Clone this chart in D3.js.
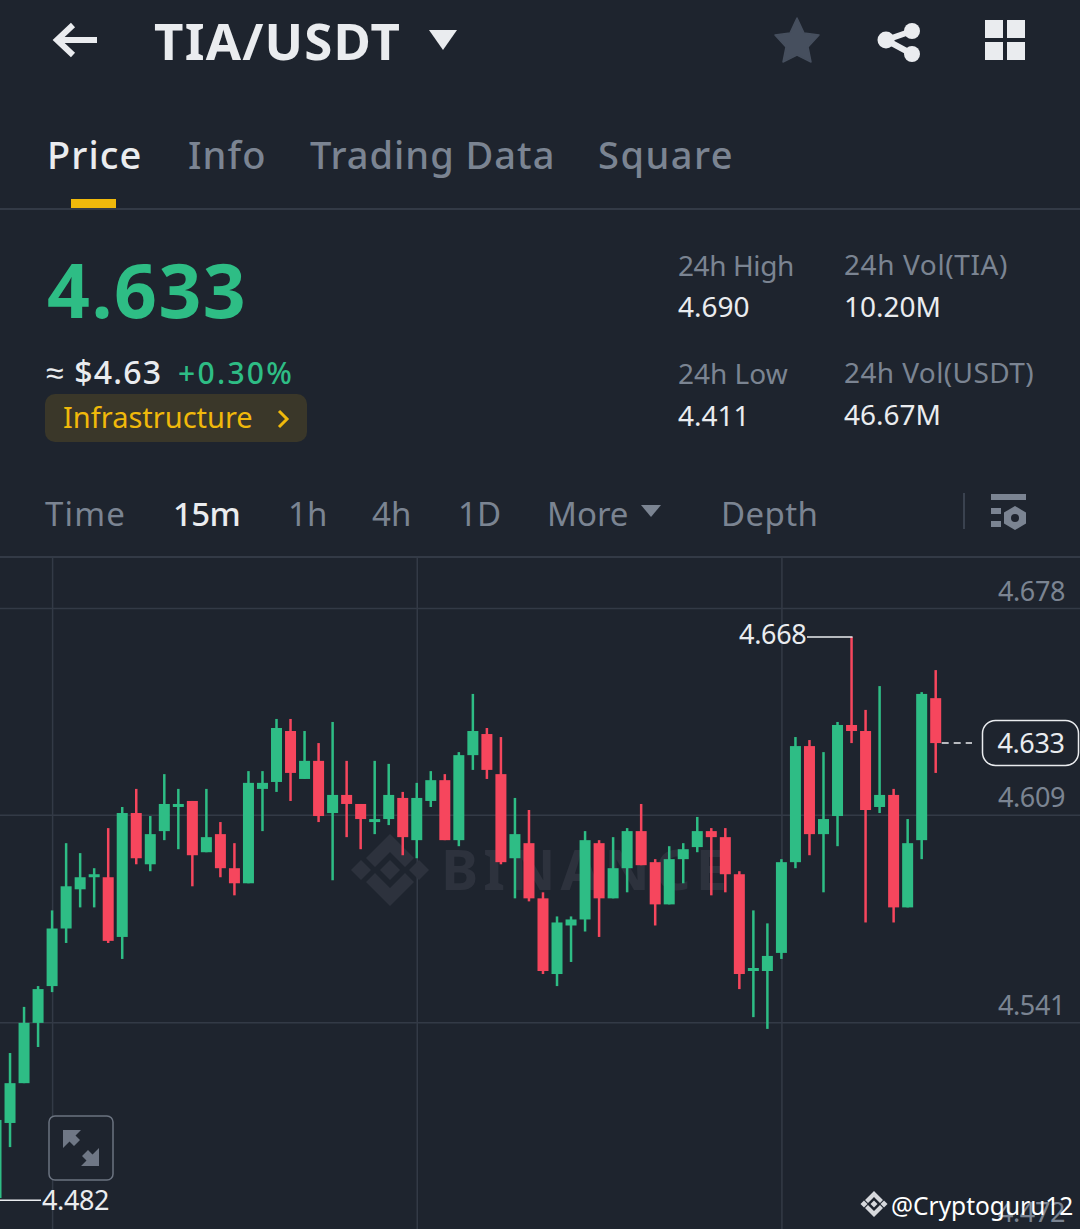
<!DOCTYPE html>
<html>
<head>
<meta charset="utf-8">
<script src="https://cdn.jsdelivr.net/npm/d3@7"></script>
<style>
html,body{margin:0;padding:0;background:#1e242e;overflow:hidden}
svg{display:block}
text{font-family:"Noto Sans",sans-serif}
</style>
</head>
<body>
<svg id="c" width="1080" height="1229"></svg>
<script>
const opens=[4.4823,4.5072,4.5204,4.5404,4.5526,4.5717,4.5847,4.5887,4.5887,4.5689,4.6100,4.5930,4.6040,4.6120,4.6140,4.5970,4.6030,4.5917,4.5867,4.6180,4.6203,4.6372,4.6213,4.6273,4.6100,4.6160,4.6130,4.6070,4.6080,4.6150,4.6010,4.6140,4.6209,4.6010,4.6292,4.6362,4.6229,4.5950,4.6000,4.5817,4.5566,4.5727,4.5747,4.6000,4.5817,4.5917,4.6040,4.5937,4.5797,4.5947,4.5987,4.6040,4.6020,4.5897,4.5576,4.5576,4.5636,4.5937,4.6322,4.6030,4.6090,4.6392,4.6372,4.6120,4.6160,4.5787,4.6010,4.6481];
const highs=[4.5082,4.5304,4.5457,4.5526,4.5777,4.6000,4.5967,4.5917,4.6050,4.6120,4.6180,4.6090,4.6229,4.6180,4.6140,4.6180,4.6070,4.6000,4.6239,4.6239,4.6412,4.6412,4.6372,4.6332,4.6402,4.6273,4.6130,4.6273,4.6263,4.6170,4.6200,4.6239,4.6229,4.6302,4.6495,4.6382,4.6352,4.6150,4.6110,4.5837,4.5757,4.5757,4.6040,4.6010,4.6020,4.6050,4.6130,4.5947,4.5990,4.6000,4.6087,4.6050,4.6050,4.5907,4.5777,4.5734,4.5947,4.6352,4.6342,4.6302,4.6402,4.6684,4.6442,4.6521,4.6180,4.6080,4.6501,4.6574];
const lows=[4.4816,4.4992,4.5204,4.5324,4.5506,4.5669,4.5787,4.5787,4.5669,4.5616,4.5930,4.5907,4.6010,4.5980,4.5857,4.5970,4.5887,4.5827,4.5867,4.6040,4.6170,4.6140,4.6213,4.6070,4.5877,4.6020,4.5980,4.6030,4.6060,4.5960,4.5950,4.6120,4.6010,4.5990,4.6243,4.6213,4.5930,4.5817,4.5807,4.5566,4.5526,4.5606,4.5707,4.5689,4.5817,4.5837,4.5927,4.5727,4.5797,4.5867,4.5970,4.5827,4.5837,4.5516,4.5423,4.5384,4.5616,4.5917,4.5960,4.5837,4.5990,4.6332,4.5737,4.6100,4.5737,4.5787,4.5947,4.6233];
const closes=[4.5082,4.5204,4.5404,4.5516,4.5717,4.5857,4.5887,4.5897,4.5676,4.6100,4.5950,4.6030,4.6130,4.6130,4.5960,4.6020,4.5917,4.5867,4.6200,4.6200,4.6382,4.6233,4.6273,4.6090,4.6160,4.6130,4.6080,4.6080,4.6160,4.6020,4.6150,4.6209,4.6010,4.6292,4.6372,4.6243,4.5937,4.6030,4.5817,4.5576,4.5737,4.5747,4.6010,4.5817,4.5917,4.6040,4.5927,4.5797,4.5947,4.5980,4.6040,4.6020,4.5897,4.5566,4.5586,4.5626,4.5937,4.6322,4.6030,4.6080,4.6392,4.6372,4.6110,4.6160,4.5787,4.6000,4.6495,4.6332];
const priceTicks=[4.678,4.6094,4.5406,4.4718];
const timeGridIndex=[4,30,56];
const tabs=["Price","Info","Trading Data","Square"];
const intervals=["Time","15m","1h","4h","1D","More","Depth"];

const BG="#1e242e",GREEN="#2ebd85",RED="#f6465d",GRID="#333a46",GREY="#7b8492",WHITE="#eaecef",YEL="#f0b90b";
const svg=d3.select("#c");
svg.append("rect").attr("width",1080).attr("height",1229).attr("fill",BG);

const candles=d3.range(opens.length).map(i=>({i,o:opens[i],h:highs[i],l:lows[i],c:closes[i]}));
const x=d3.scaleLinear().domain([0,opens.length-1]).range([-4,935.7]);
const y=d3.scaleLinear().domain([4.678,4.4718]).range([608,1229.7]);
const fmt=d3.format(".3f");

function label(t,px,py,size,fill,weight,anchor,ls){
  return svg.append("text").text(t).attr("x",px).attr("y",py).attr("font-size",size)
    .attr("fill",fill).attr("font-weight",weight||400).attr("text-anchor",anchor||"start")
    .attr("letter-spacing",ls||0);
}

/* header */
svg.append("path").attr("d","M97 40H58M73 25L57 40L73 55").attr("fill","none").attr("stroke",WHITE).attr("stroke-width",6);
label("TIA/USDT",154,60,51,WHITE,700,"start",1.2);
svg.append("path").attr("d","M429 30H457L443 50Z").attr("fill",WHITE);
svg.append("path").attr("d","M797 18L804 33L819 35L808 47L811 62L797 55L783 62L786 47L775 35L790 33Z")
  .attr("fill","#464f5e").attr("stroke","#464f5e").attr("stroke-width",1.5).attr("stroke-linejoin","round");
svg.append("path").attr("d","M912 31L886 40L912 54").attr("fill","none").attr("stroke",WHITE).attr("stroke-width",6);
[[912,31,8],[886,40,8.5],[912,54,8]].forEach(p=>svg.append("circle").attr("cx",p[0]).attr("cy",p[1]).attr("r",p[2]).attr("fill",WHITE));
[[985,20],[1007,20],[985,42],[1007,42]].forEach(p=>svg.append("rect").attr("x",p[0]).attr("y",p[1]).attr("width",18).attr("height",18).attr("fill",WHITE));

/* tabs */
const tabX=[47,188,310,598];
const tabLs=[1.1,1.1,1,1.5];
tabs.forEach((t,i)=>label(t,tabX[i],169,38,i===0?WHITE:GREY,500,"start",tabLs[i]));
svg.append("rect").attr("x",71).attr("y",199).attr("width",45).attr("height",9).attr("fill",YEL);
svg.append("rect").attr("x",0).attr("y",208).attr("width",1080).attr("height",2).attr("fill",GRID);

/* price block */
label("4.633",47,318,75,GREEN,700,"start",1.5);
label("≈ $4.63",46,384,32,WHITE,500,"start",1.2);
label("+0.30%",178,384,30,GREEN,500,"start",2.3);
svg.append("rect").attr("x",45).attr("y",394).attr("width",262).attr("height",48).attr("rx",10).attr("fill","#3a3729");
label("Infrastructure",63,428,29,YEL,400);
svg.append("path").attr("d","M279 411L287 419L279 427").attr("fill","none").attr("stroke",YEL).attr("stroke-width",3);
label("24h High",678,276,28,GREY,400,"start",-0.4);
label("4.690",678,317,28,WHITE);
label("24h Vol(TIA)",844,275,28,GREY,400,"start",0.6);
label("10.20M",844,317,28,WHITE);
label("24h Low",678,384,28,GREY);
label("4.411",678,426,28,WHITE);
label("24h Vol(USDT)",844,383,28,GREY,400,"start",0.4);
label("46.67M",844,425,28,WHITE);

/* interval bar */
const intX=[45,173,288,372,458,547,721];
const intLs=[1.2,-0.6,0,0,0,0,0.4];
intervals.forEach((t,i)=>label(t,intX[i],526,33,i===1?WHITE:GREY,i===1?500:400,"start",intLs[i]));
svg.append("path").attr("d","M641 505H661L651 517Z").attr("fill",GREY);
svg.append("rect").attr("x",963).attr("y",493).attr("width",2).attr("height",36).attr("fill","#3a424f");
svg.append("rect").attr("x",991).attr("y",494).attr("width",35).attr("height",6).attr("fill",GREY);
svg.append("rect").attr("x",991).attr("y",508).attr("width",10).attr("height",6).attr("fill",GREY);
svg.append("rect").attr("x",991).attr("y",521).attr("width",10).attr("height",6).attr("fill",GREY);
svg.append("path").attr("d","M1015 506L1026 512.5V523.5L1015 530L1004 523.5V512.5Z").attr("fill",GREY);
svg.append("circle").attr("cx",1015).attr("cy",518).attr("r",4).attr("fill",BG);
svg.append("rect").attr("x",0).attr("y",556).attr("width",1080).attr("height",2).attr("fill",GRID);

/* grid via axes */
const gridH=svg.append("g").attr("transform","translate(1080,0)")
  .call(d3.axisLeft(y).tickValues(priceTicks).tickSize(1080).tickFormat(""));
gridH.select(".domain").remove();
gridH.selectAll("line").attr("stroke",GRID).attr("stroke-width",1.5);
const gridV=svg.append("g").attr("transform","translate(0,1229)")
  .call(d3.axisTop(x).tickValues(timeGridIndex).tickSize(671).tickFormat(""));
gridV.select(".domain").remove();
gridV.selectAll("line").attr("stroke",GRID).attr("stroke-width",1.5);

/* watermark */
const wm=svg.append("g").attr("fill","#2d323d");
wm.append("path").attr("d","M390 834L414 858L405 867L390 852L375 867L366 858Z");
wm.append("path").attr("d","M390 906L414 882L405 873L390 888L375 873L366 882Z");
wm.append("path").attr("d","M390 860L400 870L390 880L380 870Z");
wm.append("path").attr("d","M361 860L371 870L361 880L351 870Z");
wm.append("path").attr("d","M419 860L429 870L419 880L409 870Z");
wm.append("text").text("BINANCE").attr("x",441).attr("y",890).attr("font-size",56).attr("font-weight",700)
  .attr("letter-spacing",5).attr("fill","#2d323d");

/* candles */
const cg=svg.append("g").selectAll("g").data(candles).join("g")
  .attr("fill",d=>d.c>=d.o?GREEN:RED);
cg.append("rect").attr("x",d=>x(d.i)-1.25).attr("width",2.5)
  .attr("y",d=>y(d.h)).attr("height",d=>y(d.l)-y(d.h));
cg.append("rect").attr("x",d=>x(d.i)-5.5).attr("width",11)
  .attr("y",d=>y(Math.max(d.o,d.c))).attr("height",d=>Math.max(2,Math.abs(y(d.o)-y(d.c))));

/* y labels */
const yLab=svg.append("g").attr("transform","translate(1065,0)")
  .call(d3.axisLeft(y).tickValues(priceTicks).tickSize(0).tickPadding(0).tickFormat(fmt));
yLab.select(".domain").remove();
yLab.selectAll("text").attr("font-family",'"Noto Sans",sans-serif').attr("font-size",27).attr("fill",GREY)
  .attr("text-anchor","end").attr("letter-spacing",-0.4).attr("dy",-8);

/* max, min and last annotations */
const hiC=candles[d3.greatestIndex(highs)],loC=candles[d3.leastIndex(lows)],last=candles[candles.length-1];
svg.append("line").attr("x1",807).attr("x2",x(hiC.i)+1).attr("y1",y(hiC.h)).attr("y2",y(hiC.h)).attr("stroke",WHITE).attr("stroke-width",1.5);
label(fmt(hiC.h),739,644,27,WHITE,400,"start",-0.3);
svg.append("line").attr("x1",x(loC.i)).attr("x2",41).attr("y1",y(loC.l)).attr("y2",y(loC.l)).attr("stroke",WHITE).attr("stroke-width",1.5);
label(fmt(loC.l),42,1210,27,WHITE,400,"start",-0.4);
svg.append("line").attr("x1",x(last.i)+6).attr("x2",972).attr("y1",y(last.c)).attr("y2",y(last.c))
  .attr("stroke",WHITE).attr("stroke-width",1.5).attr("stroke-dasharray","7 5");
svg.append("rect").attr("x",982.5).attr("y",720.5).attr("width",96).attr("height",45).attr("rx",13)
  .attr("fill",BG).attr("stroke",WHITE).attr("stroke-width",1.5);
label(fmt(last.c),1031,753,27,WHITE,400,"middle",-0.4);

/* expand button */
svg.append("rect").attr("x",49).attr("y",1116).attr("width",64).attr("height",64).attr("rx",6)
  .attr("fill",BG).attr("stroke","#6b7380").attr("stroke-width",1.5);
svg.append("path").attr("d","M63 1130H81L75.5 1135.5L80 1140L74 1146L69.5 1141.5L63 1148Z").attr("fill","#6f7785");
svg.append("path").attr("d","M99 1166H81L86.5 1160.5L82 1156L88 1150L92.5 1154.5L99 1148Z").attr("fill","#6f7785");

/* credit */
const lg=svg.append("g").attr("fill","#d6d8dc");
lg.append("path").attr("d","M874 1191L883 1200L880 1203L874 1197L868 1203L865 1200Z");
lg.append("path").attr("d","M874 1217L883 1208L880 1205L874 1211L868 1205L865 1208Z");
lg.append("path").attr("d","M874 1200.5L877.5 1204L874 1207.5L870.5 1204Z");
lg.append("path").attr("d","M864 1200.5L867.5 1204L864 1207.5L860.5 1204Z");
lg.append("path").attr("d","M884 1200.5L887.5 1204L884 1207.5L880.5 1204Z");
label("@Cryptoguru12",891,1215,24.5,"#ffffff");
</script>
</body>
</html>
